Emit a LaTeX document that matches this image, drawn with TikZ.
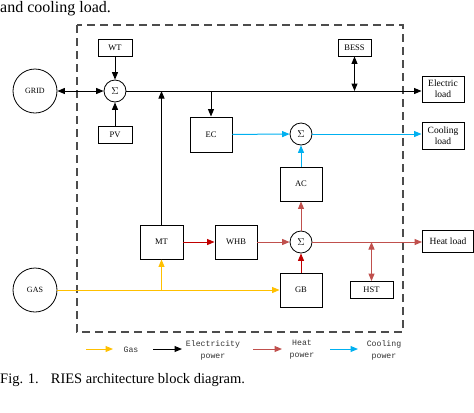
\documentclass[tikz,border=0pt]{standalone}
\usepackage{fontspec}
\setmainfont{Liberation Serif}
\newfontfamily\legfont{Liberation Mono}
\usetikzlibrary{arrows.meta}

\definecolor{gascol}{RGB}{255,192,0}
\definecolor{heatcol}{RGB}{192,80,77}
\definecolor{hotcol}{RGB}{192,0,0}
\definecolor{coolcol}{RGB}{0,176,240}

\tikzset{
  tip/.style={Triangle[length=7.5bp,width=6bp]},
  blk/.style={draw, line width=0.9bp, inner sep=0pt, font=\fontsize{8.5bp}{9bp}\selectfont},
  load/.style={blk, align=center, font=\fontsize{9.5bp}{11bp}\selectfont},
  src/.style={draw, circle, line width=0.8bp, minimum size=44bp, inner sep=0pt, font=\fontsize{8bp}{9bp}\selectfont},
  summ/.style={draw, circle, line width=0.8bp, minimum size=22bp, inner sep=0pt},
  flow/.style={line width=1bp, -{Triangle[length=7.5bp,width=6bp]}},
  bidi/.style={{Triangle[length=7.5bp,width=6bp]}-{Triangle[length=7.5bp,width=6bp]}},
  eflow/.style={flow, black},
  gflow/.style={flow, gascol},
  hflow/.style={flow, heatcol},
  hotflow/.style={flow, hotcol},
  cflow/.style={flow, coolcol},
  legtxt/.style={align=center, text=black!80, font=\legfont\fontsize{8.2bp}{12bp}\selectfont}
}

\begin{document}
\begin{tikzpicture}[x=1bp, y=-1bp]
\useasboundingbox (0,0) rectangle (474,412);

% texte autour de la figure
\node[anchor=base west, inner sep=0pt, font=\fontsize{16bp}{18bp}\selectfont] (prev) at (0,12) {and cooling load.};
\node[anchor=base west, inner sep=0pt, font=\fontsize{14.5bp}{16bp}\selectfont] (cap) at (0,383) {Fig. 1.\hspace{12bp}RIES architecture block diagram.};

% cadre du systeme
\draw[line width=1.3bp, black!70, dash pattern=on 8bp off 5bp] (77,25) rectangle (403,332);

% sorgenti e carichi
\node[src] (grid) at (35,91) {GRID};
\node[src] (gas) at (35,290) {GAS};
\node[load, minimum width=42bp, minimum height=26bp] (eload) at (443,89) {Electric\\load};
\node[load, minimum width=42bp, minimum height=27bp] (cload) at (443,136) {Cooling\\load};
\node[load, minimum width=51bp, minimum height=22bp] (hload) at (448,241) {Heat load};

% componenti
\node[blk, minimum width=34bp, minimum height=17bp] (wt) at (115,47.5) {WT};
\node[blk, minimum width=34bp, minimum height=17bp] (pv) at (115,134.5) {PV};
\node[blk, minimum width=33bp, minimum height=17bp] (bess) at (354.5,47.5) {BESS};
\node[blk, minimum width=42bp, minimum height=35bp] (ec) at (211,134.5) {EC};
\node[blk, minimum width=42bp, minimum height=34bp] (ac) at (301,184) {AC};
\node[blk, minimum width=43bp, minimum height=34bp] (mt) at (161.5,242) {MT};
\node[blk, minimum width=42bp, minimum height=34bp] (whb) at (236,242) {WHB};
\node[blk, minimum width=42bp, minimum height=34bp] (gb) at (301,290) {GB};
\node[blk, minimum width=43bp, minimum height=17bp] (hst) at (371.5,290) {HST};

% nodi somma
\node[summ] (s1) at (115,91) {$\Sigma$};
\node[summ] (s2) at (301,134) {$\Sigma$};
\node[summ] (s3) at (301,242) {$\Sigma$};

% rete elettrica
\draw[eflow, bidi] (grid) -- (s1);
\draw[eflow] (wt) -- (s1);
\draw[eflow] (pv) -- (s1);
\draw[eflow] (s1) -- (s1 -| eload.west);
\draw[eflow, bidi] (bess) -- (bess |- s1);
\draw[eflow] (mt) -- (mt |- s1);
\draw[eflow] (ec |- s1) -- (ec);

% raffreddamento
\draw[cflow] (ec) -- (s2);
\draw[cflow] (ac) -- (s2);
\draw[cflow] (s2) -- (s2 -| cload.west);

% calore
\draw[hotflow] (mt) -- (whb);
\draw[hflow] (whb) -- (s3);
\draw[hflow] (s3) -- (ac);
\draw[hotflow] (gb) -- (s3);
\draw[hflow] (s3) -- (s3 -| hload.west);
\draw[hflow, bidi] (hst |- s3) -- (hst);

% gas
\draw[gflow] (gas) -- (gb);
\draw[gflow] (mt |- gas) -- (mt);

% legenda
\coordinate (lg1) at (86,349);
\coordinate (lg2) at (153,349);
\coordinate (lg3) at (253,349);
\coordinate (lg4) at (330,349);
\draw[gflow] (lg1) -- ++(27,0);
\draw[eflow] (lg2) -- ++(29,0);
\draw[hflow] (lg3) -- ++(29,0);
\draw[cflow] (lg4) -- ++(28,0);
\node[legtxt] (tgas) at (131,350) {Gas};
\node[legtxt] (tel) at (213,350) {Electricity\\power};
\node[legtxt] (theat) at (302,350) {Heat\\power};
\node[legtxt] (tcool) at (384,350) {Cooling\\power};

\end{tikzpicture}
\end{document}
